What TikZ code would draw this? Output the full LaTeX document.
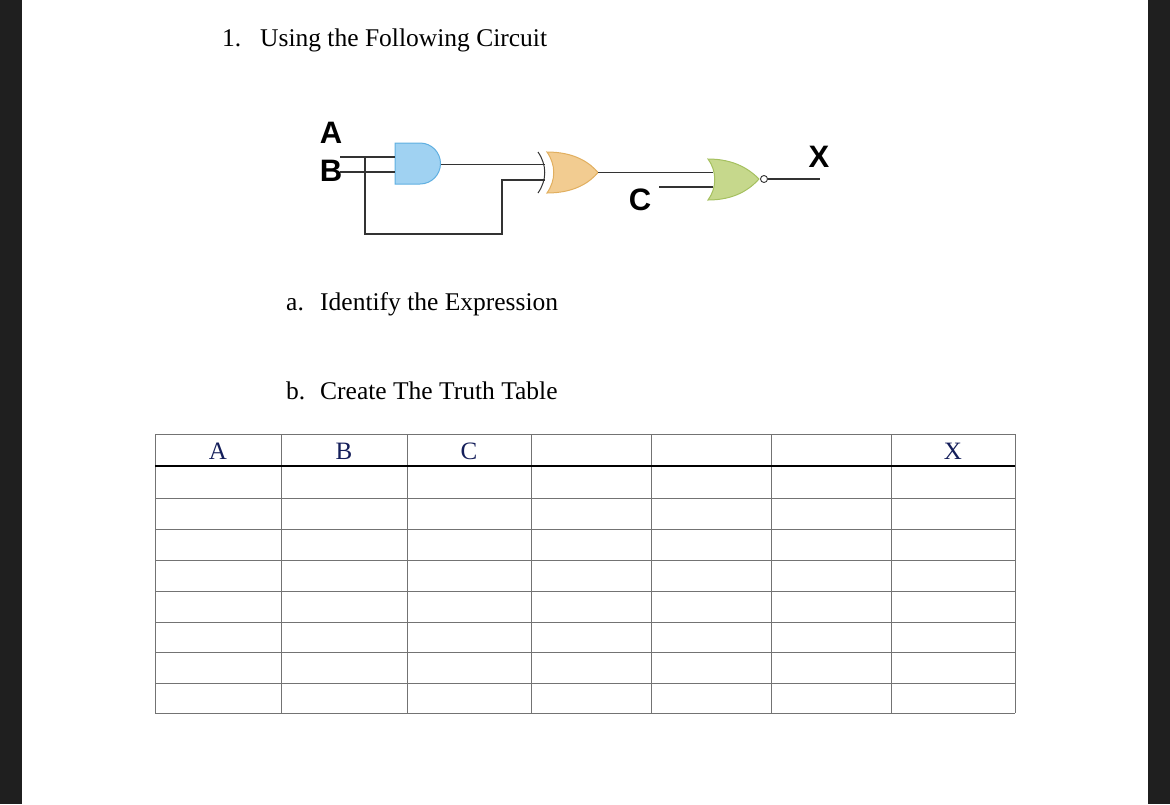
\documentclass[tikz,border=0pt]{standalone}
\usepackage{fontspec}
\setmainfont{Liberation Serif}
\newfontfamily\lbl{Liberation Sans}
\definecolor{andf}{RGB}{160,210,242}\definecolor{andd}{RGB}{95,175,225}
\definecolor{xorf}{RGB}{242,204,145}\definecolor{xord}{RGB}{225,175,95}
\definecolor{norf}{RGB}{198,216,140}\definecolor{nord}{RGB}{165,192,95}
\definecolor{hdr}{RGB}{20,30,90}
\begin{document}
\begin{tikzpicture}[x=1pt,y=-1pt,
  txt/.style={inner sep=0pt,anchor=base west,font=\fontsize{25.5}{28}\selectfont},
  big/.style={inner sep=0pt,font=\lbl\bfseries\fontsize{31}{31}\selectfont},
  wire/.style={line width=1.1pt,black!80},
  cell/.style={draw=black!55,line width=0.7pt}]
\useasboundingbox (0,0) rectangle (1170,804);
\fill[black!88] (0,0) rectangle (22,804);
\fill[black!88] (1148,0) rectangle (1170,804);
\node[txt] (n1l) at (222,46) {1.};
\node[txt] (t1) at (260,46) {Using the Following Circuit};
\node[txt] (tal) at (286,310) {a.};
\node[txt] (ta) at (320,310) {Identify the Expression};
\node[txt] (tbl) at (286,399) {b.};
\node[txt] (tb) at (320,399) {Create The Truth Table};
% labels
\node[big] (A) at (331,133) {A};
\node[big] (B) at (331,171) {B};
\node[big] (C) at (640,200) {C};
\node[big] (X) at (819,157) {X};
% gates
\draw[andd,fill=andf,line width=1pt] (395,143) -- (420,143) arc[start angle=-90,end angle=90,radius=20.5] -- (395,184) -- cycle;
\draw[xord,fill=xorf,line width=1pt] (547,152) .. controls (575,152) and (590,163) .. (598,172.5) .. controls (590,182) and (575,193) .. (547,193) .. controls (556,180) and (556,165) .. (547,152) -- cycle;
\draw[black!80,line width=1pt] (538,152) .. controls (547,165) and (547,180) .. (538,193);
\draw[nord,fill=norf,line width=1pt] (708,159) .. controls (735,159) and (750,170) .. (759,179) .. controls (750,189) and (735,200) .. (708,200) .. controls (717,188) and (717,171) .. (708,159) -- cycle;
\node[draw=black!80,fill=white,circle,minimum size=7pt,inner sep=0pt,line width=0.9pt] (bub) at (764,179) {};
% coordinates
\coordinate (a0) at (340,157); \coordinate (a1) at (395,157);
\coordinate (b0) at (340,172); \coordinate (b1) at (395,172);
\coordinate (j) at (365,157); \coordinate (j1) at (365,234); \coordinate (j2) at (502,234); \coordinate (j3) at (502,180); \coordinate (x2) at (545,180);
\coordinate (ao) at (441,164.5); \coordinate (x1) at (545,164.5);
\coordinate (xo) at (598,172.5); \coordinate (n1) at (713,172.5);
\coordinate (c0) at (659,187); \coordinate (n2) at (713,187);
\coordinate (xe) at (820,179);
\draw[wire] (a0) -- (a1);
\draw[wire] (b0) -- (b1);
\draw[wire,line width=1.6pt] (j) -- (j1) -- (j2) -- (j3) -- (x2);
\draw[wire] (ao) -- (x1);
\draw[wire] (xo) -- (n1);
\draw[wire] (c0) -- (n2);
\draw[wire] (bub.east) -- (xe);
% table
\foreach \y in {434,498,529,560,591,622,652,683,713} \draw[cell] (155,\y) -- (1015,\y);
\foreach \x in {155,281,407,531,651,771,891,1015} \draw[cell] (\x,434) -- (\x,713);
\draw[black,line width=2.5pt] (155,466) -- (1015,466);
\foreach \t/\x in {A/218,B/344,C/469,X/953}
  \node[font=\fontsize{25}{28}\selectfont,text=hdr,inner sep=0pt] (h\t) at (\x,451) {\t};
\end{tikzpicture}
\end{document}
